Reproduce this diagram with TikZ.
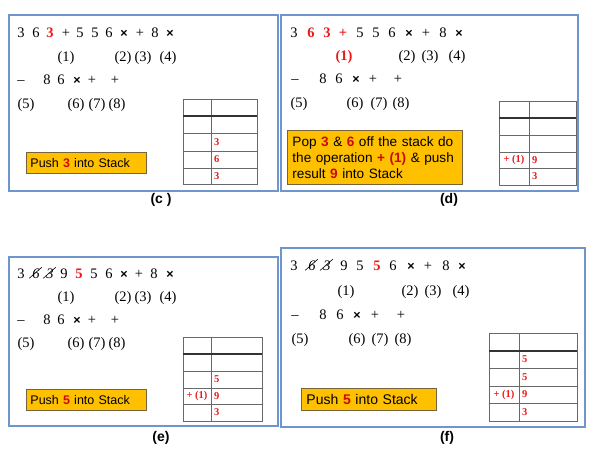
\documentclass[tikz,border=0pt]{standalone}
\usepackage{fontspec}
\setmainfont{Liberation Serif}
\newfontfamily\arialf{Liberation Sans}
\definecolor{panelblue}{RGB}{110,150,205}
\definecolor{yfill}{RGB}{255,192,0}
\definecolor{ydraw}{RGB}{120,100,60}
\definecolor{rd}{RGB}{235,25,25}
\definecolor{drd}{RGB}{205,10,10}
\definecolor{tgray}{RGB}{105,105,105}
\newcommand\RR[1]{\textcolor{rd}{\bfseries #1}}
\newcommand\DR[1]{\textcolor{drd}{\bfseries #1}}
\newcommand\XX{{\arialf\bfseries\fontsize{12.5}{12}\selectfont ×}}
\newcommand\SD[1]{{\itshape #1}}
\tikzset{
  panel/.style={draw=panelblue, line width=1.1pt},
  t/.style={inner sep=0pt, anchor=base, font=\fontsize{14.5}{16}\selectfont},
  ybox/.style={fill=yfill, draw=ydraw, line width=0.9pt, anchor=north west, inner xsep=4pt, inner ysep=0pt, align=left, font=\arialf},
  tl/.style={draw=tgray, line width=0.8pt},
  tk/.style={draw=black!80, line width=1.4pt},
  te/.style={inner sep=0pt, anchor=west, text=rd, font=\bfseries\fontsize{10.5}{10}\selectfont},
  captxt/.style={inner sep=0pt, font=\arialf\bfseries\fontsize{14}{14}\selectfont},
  strike/.style={draw=black, line width=0.6pt}
}
\begin{document}
\begin{tikzpicture}[x=1pt,y=-1pt]
\useasboundingbox (0,0) rectangle (599,455);
% panels
\draw[panel] (9,15) rectangle (278,191);
\draw[panel] (281,15) rectangle (578,191);
\draw[panel] (9,257) rectangle (278,426);
\draw[panel] (281,248) rectangle (585,427);
% captions
\node[captxt] (capc) at (161,200) {(c )};
\node[captxt] (capd) at (449,200) {(d)};
\node[captxt] (cape) at (161,438) {(e)};
\node[captxt] (capf) at (447,438) {(f)};

% ---------- panel c ----------
\foreach \x/\s [count=\i] in {21/3,36/6,50/{\RR{3}},66/+,80/5,95/5,109/6,124/\XX,140/+,155/8,170/\XX}
  \node[t] (c1-\i) at (\x,37) {\s};
\foreach \x/\s [count=\i] in {66/(1),123/(2),143/(3),168/(4)}
  \node[t] (c2-\i) at (\x,61) {\s};
\foreach \x/\s [count=\i] in {21/–,47/8,61/6,77/\XX,92/+,115/+}
  \node[t] (c3-\i) at (\x,84) {\s};
\foreach \x/\s [count=\i] in {26/(5),76/(6),97/(7),117/(8)}
  \node[t] (c4-\i) at (\x,108) {\s};
\node[ybox, text width=112pt, minimum height=21pt, font=\arialf\fontsize{12.5}{14}\selectfont] (cbox) at (26,152) {Push \DR{3} into Stack};
\draw[tl] (183,99) rectangle (257,184);
\draw[tl] (211,99) -- (211,184);
\foreach \y in {133,151,168} \draw[tl] (183,\y) -- (257,\y);
\draw[tk] (183,116) -- (257,116);
\node[te] (ct3) at (214,142) {3};
\node[te] (ct4) at (214,159.5) {6};
\node[te] (ct5) at (214,176) {3};

% ---------- panel d ----------
\foreach \x/\s [count=\i] in {294/3,311/{\RR{6}},327/{\RR{3}},343/{\RR{+}},360/5,376/5,392/6,409/\XX,426/+,443/8,459/\XX}
  \node[t] (d1-\i) at (\x,37) {\s};
\foreach \x/\s [count=\i] in {344/{\RR{(1)}},407/(2),430/(3),457/(4)}
  \node[t] (d2-\i) at (\x,60) {\s};
\foreach \x/\s [count=\i] in {295/–,323/8,339/6,356/\XX,373/+,398/+}
  \node[t] (d3-\i) at (\x,83) {\s};
\foreach \x/\s [count=\i] in {299/(5),355/(6),379/(7),401/(8)}
  \node[t] (d4-\i) at (\x,107) {\s};
\node[ybox, text width=165pt, minimum height=54pt, inner xsep=5pt, font=\arialf\fontsize{13.6}{16}\selectfont] (dbox) at (287,130)
  {Pop \DR{3} \& \DR{6} off the stack do\\the operation \DR{+ (1)} \& push\\result \DR{9} into Stack};
\draw[tl] (499,101) rectangle (576,185);
\draw[tl] (529,101) -- (529,185);
\foreach \y in {135,152,168} \draw[tl] (499,\y) -- (576,\y);
\draw[tk] (499,118) -- (576,118);
\node[te, anchor=center] (dt4a) at (514,160) {+ (1)};
\node[te] (dt4) at (532,160) {9};
\node[te] (dt5) at (532,176.5) {3};

% ---------- panel e ----------
\foreach \x/\s [count=\i] in {21/3,36/{\SD{6}},50/{\SD{3}},64/9,79/{\RR{5}},94/5,109/6,124/\XX,139/+,154/8,170/\XX}
  \node[t] (e1-\i) at (\x,278) {\s};
\draw[strike] ([xshift=-3pt]e1-2.south west) -- ([xshift=2pt,yshift=1pt]e1-2.north east);
\draw[strike] ([xshift=-3pt]e1-3.south west) -- ([xshift=2pt,yshift=1pt]e1-3.north east);
\foreach \x/\s [count=\i] in {66/(1),123/(2),143/(3),168/(4)}
  \node[t] (e2-\i) at (\x,301) {\s};
\foreach \x/\s [count=\i] in {21/–,47/8,61/6,77/\XX,92/+,115/+}
  \node[t] (e3-\i) at (\x,324) {\s};
\foreach \x/\s [count=\i] in {26/(5),76/(6),97/(7),117/(8)}
  \node[t] (e4-\i) at (\x,347) {\s};
\node[ybox, text width=112pt, minimum height=21pt, font=\arialf\fontsize{12.5}{14}\selectfont] (ebox) at (26,389) {Push \DR{5} into Stack};
\draw[tl] (183,337) rectangle (262,421);
\draw[tl] (211,337) -- (211,421);
\foreach \y in {371,388,404} \draw[tl] (183,\y) -- (262,\y);
\draw[tk] (183,354) -- (262,354);
\node[te] (et3) at (214,379.5) {5};
\node[te, anchor=center] (et4a) at (197,396) {+ (1)};
\node[te] (et4) at (214,396) {9};
\node[te] (et5) at (214,412.5) {3};

% ---------- panel f ----------
\foreach \x/\s [count=\i] in {294/3,312/{\SD{6}},327/{\SD{3}},344/9,360/5,377/{\RR{5}},393/6,411/\XX,428/+,446/8,462/\XX}
  \node[t] (f1-\i) at (\x,270) {\s};
\draw[strike] ([xshift=-3pt]f1-2.south west) -- ([xshift=2pt,yshift=1pt]f1-2.north east);
\draw[strike] ([xshift=-3pt]f1-3.south west) -- ([xshift=2pt,yshift=1pt]f1-3.north east);
\foreach \x/\s [count=\i] in {346/(1),410/(2),433/(3),461/(4)}
  \node[t] (f2-\i) at (\x,295) {\s};
\foreach \x/\s [count=\i] in {295/–,323/8,340/6,357/\XX,375/+,401/+}
  \node[t] (f3-\i) at (\x,319) {\s};
\foreach \x/\s [count=\i] in {300/(5),357/(6),380/(7),403/(8)}
  \node[t] (f4-\i) at (\x,343) {\s};
\node[ybox, text width=125pt, minimum height=22pt, inner xsep=5pt, font=\arialf\fontsize{14}{16}\selectfont] (fbox) at (301,388) {Push \DR{5} into Stack};
\draw[tl] (489,333) rectangle (577,421);
\draw[tl] (519,333) -- (519,421);
\foreach \y in {368,386,403} \draw[tl] (489,\y) -- (577,\y);
\draw[tk] (489,351) -- (577,351);
\node[te] (ft2) at (522,359.5) {5};
\node[te] (ft3) at (522,377) {5};
\node[te, anchor=center] (ft4a) at (504,394.5) {+ (1)};
\node[te] (ft4) at (522,394.5) {9};
\node[te] (ft5) at (522,412) {3};
\end{tikzpicture}
\end{document}
